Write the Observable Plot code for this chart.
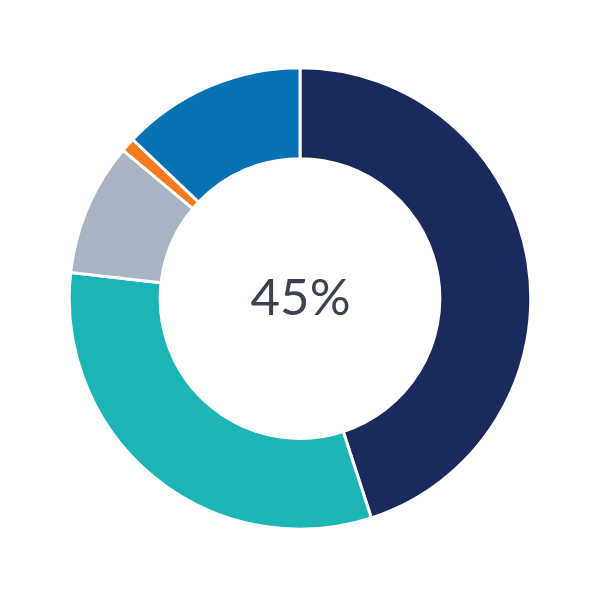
<!DOCTYPE html>
<html>
<head>
<meta charset="utf-8">
<script src="https://cdn.jsdelivr.net/npm/d3@7"></script>
<script src="https://cdn.jsdelivr.net/npm/@observablehq/plot@0.6"></script>
<style>
  html, body { margin: 0; padding: 0; background: #ffffff; }
</style>
</head>
<body>
<div id="chart"></div>
<script>
const categories = ["A", "B", "C", "D", "E"];
const values = [45, 31.8, 9.3, 1.0, 12.9];
const colors = ["#1b2a5c", "#1cb5b6", "#a8b4c3", "#f47b20", "#0672b3"];
const centerLabel = ["45%"];

const data = categories.map((c, i) => ({category: c, value: values[i], color: colors[i]}));

const innerRatio = 0.606;

function donutMark(index, scales, channels, dimensions) {
  const cx = scales.x(0), cy = scales.y(0);
  const r = scales.x(1) - scales.x(0);
  const pie = d3.pie().sort(null).value(d => d.value)(data);
  const arc = d3.arc().innerRadius(r * innerRatio).outerRadius(r);
  const g = d3.create("svg:g").attr("transform", `translate(${cx},${cy})`);
  g.selectAll("path")
    .data(pie)
    .join("path")
    .attr("d", arc)
    .attr("fill", d => d.data.color)
    .attr("stroke", "#ffffff")
    .attr("stroke-width", 3)
    .attr("stroke-linejoin", "round");
  return g.node();
}

const chart = Plot.plot({
  width: 600,
  height: 599,
  marginTop: 0,
  marginBottom: 2,
  marginLeft: 0,
  marginRight: 0,
  x: {domain: [-1.3, 1.3], axis: null},
  y: {domain: [-1.3, 1.3], axis: null},
  style: {background: "#ffffff"},
  marks: [
    donutMark,
    Plot.text(centerLabel, {
      x: () => 0, y: () => 0, text: d => d,
      fontSize: 51, fill: "#3c4350", fontFamily: "Lato", fontWeight: 400,
      textAnchor: "middle", dy: 0
    })
  ]
});
document.getElementById("chart").appendChild(chart);
</script>
</body>
</html>
